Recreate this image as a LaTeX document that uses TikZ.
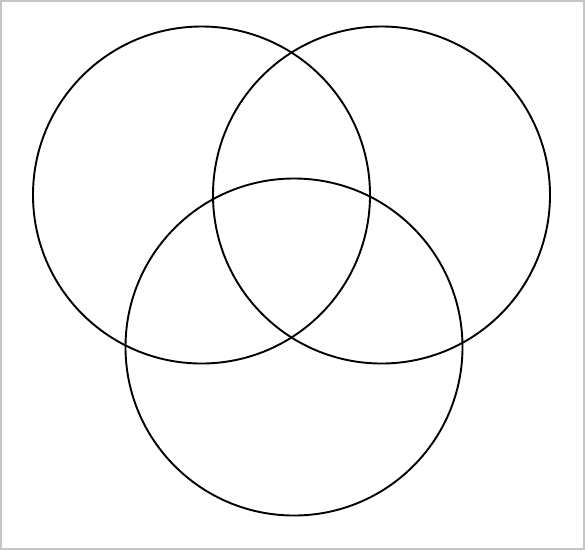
\documentclass[tikz,border=0pt]{standalone}
\begin{document}
\begin{tikzpicture}[x=1pt,y=-1pt,
  venn/.style={draw=black,line width=1.9pt}]
\useasboundingbox (0,0) rectangle (585,550);
\fill[white] (0,0) rectangle (585,550);
\draw[gray!45,line width=1.6pt] (0.8,0.8) rectangle (584.2,549.2);
\node[venn,circle,minimum size=337pt,inner sep=0pt] (A) at (201.5,195) {};
\node[venn,circle,minimum size=337pt,inner sep=0pt] (B) at (381.5,195) {};
\node[venn,circle,minimum size=337pt,inner sep=0pt] (C) at (294,347) {};
\end{tikzpicture}
\end{document}
